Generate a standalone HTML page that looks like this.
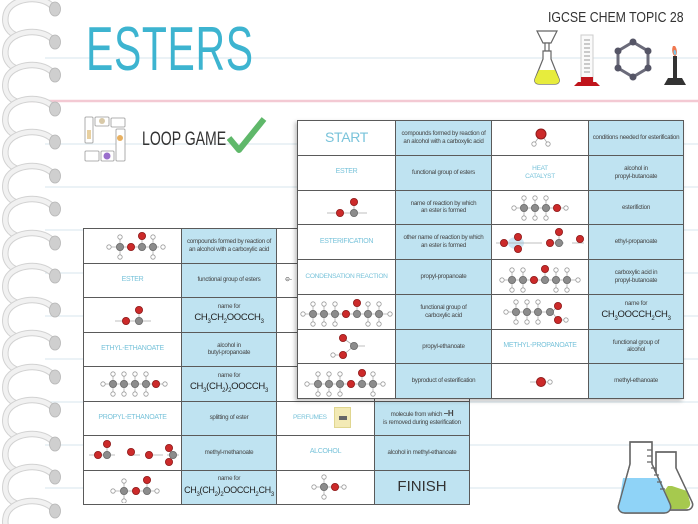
<!DOCTYPE html>
<html><head><meta charset="utf-8"><style>
*{margin:0;padding:0;box-sizing:border-box}
body{width:698px;height:524px;position:relative;overflow:hidden;background:#fff;font-family:"Liberation Sans",sans-serif}
.abs{position:absolute}
table{border-collapse:collapse;table-layout:fixed;position:absolute;background:#fff}
td{border:1.5px solid #5a5a5a;text-align:center;vertical-align:middle;font-size:6.2px;color:#444;line-height:1.25;overflow:hidden;padding:0;letter-spacing:-.25px}
td.b{background:#bfe3f1}
td.t{color:#79c3da;font-size:7px;letter-spacing:-.3px}
.f{font-size:9.5px;color:#222;letter-spacing:-.3px;display:block;margin-top:2px}
.f sub{font-size:6px}
td svg{display:block;margin:auto}
</style></head><body>
<svg width="0" height="0" style="position:absolute"><defs>
<circle id="C" r="3.6" fill="#8c8c8c" stroke="#6a6a6a" stroke-width=".8"/>
<circle id="O" r="3.6" fill="#cc2a2a" stroke="#8e1b1b" stroke-width=".8"/>
<circle id="H" r="2.2" fill="#fff" stroke="#9a9a9a" stroke-width=".8"/>
<g id="CH"><path d="M0 -10V10" stroke="#aaa" stroke-width=".8"/><use href="#C"/><use href="#H" y="-10"/><use href="#H" y="10"/></g>
<g id="CO"><path d="M0 -11V0" stroke="#aaa" stroke-width=".8"/><use href="#C"/><use href="#O" y="-11"/></g>
</defs></svg>

<svg class="abs" style="left:0;top:0" width="698" height="524">
<g stroke="#dfeaf0" stroke-width="1.2">
<line x1="45" y1="58" x2="698" y2="58"/><line x1="45" y1="144" x2="698" y2="144"/><line x1="45" y1="187" x2="698" y2="187"/><line x1="45" y1="230" x2="698" y2="230"/><line x1="45" y1="273" x2="698" y2="273"/><line x1="45" y1="316" x2="698" y2="316"/><line x1="45" y1="359" x2="698" y2="359"/><line x1="45" y1="402" x2="698" y2="402"/><line x1="45" y1="445" x2="698" y2="445"/><line x1="45" y1="488" x2="698" y2="488"/>
</g>
<line x1="20" y1="101" x2="698" y2="101" stroke="#f3c9d3" stroke-width="2.5"/>
<g id="ring">
<path d="M52 6 C40 -6 10 -2 6 14 C3 26 10 34 18 36" fill="none" stroke="#d2d2d2" stroke-width="6.5"/>
<path d="M52 6 C40 -6 10 -2 6 14 C3 26 10 34 18 36" fill="none" stroke="#f1f1f1" stroke-width="4.5"/>
<ellipse cx="55" cy="9" rx="5.5" ry="7" fill="#cfcfcf" stroke="#b5b5b5" stroke-width=".8"/>
</g>
<use href="#ring" y="33"/><use href="#ring" y="66"/><use href="#ring" y="100"/><use href="#ring" y="133"/><use href="#ring" y="167"/><use href="#ring" y="200"/><use href="#ring" y="234"/><use href="#ring" y="267"/><use href="#ring" y="301"/><use href="#ring" y="334"/><use href="#ring" y="368"/><use href="#ring" y="401"/><use href="#ring" y="435"/><use href="#ring" y="468"/><use href="#ring" y="502"/>
</svg>

<div class="abs" style="left:86px;top:14px;font-size:62px;color:#3db4d0;transform:scaleX(.66);transform-origin:left top;letter-spacing:1px">ESTERS</div>
<div class="abs" style="left:548px;top:9px;font-size:15px;color:#333;transform:scaleX(.82);transform-origin:left top;white-space:nowrap">IGCSE CHEM TOPIC 28</div>

<svg class="abs" style="left:530px;top:28px" width="168" height="60">
<g stroke="#666" stroke-width="1.2" fill="#fff">
<path d="M7 3h20l-6 12h-8z"/><rect x="15" y="15" width="4" height="8"/><path d="M13 23h8v8l8 20c1 3-1 5-4 5h-16c-3 0-5-2-4-5l8-20z"/>
</g>
<path d="M9 42h16l4 9c1 3-1 5-4 5h-16c-3 0-5-2-4-5z" fill="#e7ec3d"/>
<rect x="51" y="7" width="12" height="48" fill="#fafafa" stroke="#ccc"/>
<g stroke="#999" stroke-width="1"><path d="M54 12h6M54 16h6M54 20h6M54 24h6M54 28h6M54 32h6M54 36h6M54 40h6M54 44h6"/></g>
<path d="M44 58h26l-4-4h-18z" fill="#c0141b"/><rect x="51" y="49" width="12" height="6" fill="#c0141b"/>
<g fill="none" stroke="#6b6b7a" stroke-width="3"><path d="M103 14l15 9v17l-15 9l-15-9v-17z"/></g>
<g fill="#555566"><circle cx="103" cy="14" r="3.5"/><circle cx="118" cy="23" r="3.5"/><circle cx="118" cy="40" r="3.5"/><circle cx="103" cy="49" r="3.5"/><circle cx="88" cy="40" r="3.5"/><circle cx="88" cy="23" r="3.5"/></g>
<path d="M143 18c-2 4 0 10 2 10s3-6 0-10z" fill="#f07850"/><path d="M144 22c-1 2 0 5 1 5s2-3 0-5z" fill="#7bc6e6"/>
<rect x="143" y="28" width="4" height="22" fill="#333"/><path d="M134 57h22l-4-7h-14z" fill="#333"/>
</svg>

<svg class="abs" style="left:84px;top:116px" width="44" height="48">
<g fill="#fff" stroke="#999" stroke-width=".8"><rect x="1" y="1" width="8" height="26" rx="1"/><rect x="11" y="1" width="14" height="9" rx="1"/><rect x="27" y="2" width="14" height="9" rx="1"/><rect x="32" y="13" width="9" height="32" rx="1"/><rect x="1" y="35" width="14" height="10" rx="1"/><rect x="17" y="35" width="13" height="10" rx="1"/></g>
<circle cx="18" cy="5" r="3" fill="#d8c9a8"/><circle cx="36" cy="22" r="3" fill="#e8b060"/><circle cx="23" cy="40" r="3.5" fill="#9a6fcc"/><rect x="3" y="14" width="4" height="9" fill="#e8d0a0"/>
</svg>
<div class="abs" style="left:142px;top:129px;font-size:19px;color:#333;transform:scaleX(.74);transform-origin:left top;white-space:nowrap">LOOP GAME</div>
<svg class="abs" style="left:227px;top:116px" width="40" height="38"><path d="M2 22l10 12l25-31" fill="none" stroke="#5fb86a" stroke-width="6" stroke-linejoin="round"/></svg>

<table style="left:83px;top:228px;width:386px">
<colgroup><col style="width:98px"><col style="width:95px"><col style="width:98px"><col style="width:95px"></colgroup>
<tr style="height:34.5px"><td><svg width="96" height="32"><path d="M24 17H74" stroke="#aaa" stroke-width=".8"/><use href="#H" x="24" y="17"/><use href="#CH" x="35" y="17"/><use href="#O" x="46" y="17"/><use href="#CO" x="57" y="17"/><use href="#CH" x="68" y="17"/><use href="#H" x="78" y="17"/></svg></td><td class="b">compounds formed by reaction of<br>an alcohol with a carboxylic acid</td><td></td><td></td></tr>
<tr style="height:34.5px"><td class="t">ESTER</td><td class="b">functional group of esters</td><td style="text-align:left;padding-left:8px">⊖-</td><td></td></tr>
<tr style="height:34.5px"><td><svg width="96" height="32"><path d="M30 22H66M54 22V11" stroke="#aaa" stroke-width=".8"/><use href="#O" x="41" y="22"/><use href="#C" x="54" y="22"/><use href="#O" x="54" y="11"/></svg></td><td class="b">name for<span class="f">CH<sub>3</sub>CH<sub>2</sub>OOCCH<sub>3</sub></span></td><td></td><td></td></tr>
<tr style="height:34.5px"><td class="t">ETHYL-ETHANOATE</td><td class="b">alcohol in<br>butyl-propanoate</td><td></td><td></td></tr>
<tr style="height:34.5px"><td><svg width="96" height="32"><path d="M18 16H80" stroke="#aaa" stroke-width=".8"/><use href="#H" x="18" y="16"/><use href="#CH" x="28" y="16"/><use href="#CH" x="39" y="16"/><use href="#CH" x="50" y="16"/><use href="#CH" x="61" y="16"/><use href="#O" x="71" y="16"/><use href="#H" x="80" y="16"/></svg></td><td class="b">name for<span class="f">CH<sub>3</sub>(CH<sub>2</sub>)<sub>2</sub>OOCCH<sub>3</sub></span></td><td></td><td></td></tr>
<tr style="height:34.5px"><td class="t">PROPYL-ETHANOATE</td><td class="b">splitting of ester</td><td class="t" style="text-align:left;padding-left:16px;position:relative;font-size:6.5px">PERFUMES<span style="position:absolute;left:57px;top:5px;width:17px;height:21px;background:#f3eab5;border:1px solid #e0d690"><span style="position:absolute;left:4px;top:8px;width:8px;height:4px;background:#666"></span></span></td><td class="b">molecule from which <b style="font-size:8px">–H</b><br>is removed during esterification</td></tr>
<tr style="height:34.5px"><td><svg width="96" height="32"><path d="M4 18H30M44 18H55M64 18H78M82 18H94" stroke="#aaa" stroke-width=".8"/><use href="#O" x="13" y="18"/><use href="#CO" x="22" y="18"/><use href="#O" x="46" y="15"/><use href="#O" x="64" y="18"/><use href="#O" x="84" y="11"/><use href="#C" x="88" y="18"/><use href="#O" x="84" y="25"/></svg></td><td class="b">methyl-methanoate</td><td class="t">ALCOHOL</td><td class="b">alcohol in methyl-ethanoate</td></tr>
<tr style="height:34.5px"><td><svg width="96" height="32"><path d="M28 20H72" stroke="#aaa" stroke-width=".8"/><use href="#H" x="28" y="20"/><use href="#CH" x="39" y="20"/><use href="#O" x="51" y="20"/><use href="#CO" x="62" y="20"/><use href="#H" x="72" y="20"/></svg></td><td class="b">name for<span class="f" style="font-size:9px">CH<sub>3</sub>(CH<sub>2</sub>)<sub>2</sub>OOCCH<sub>2</sub>CH<sub>3</sub></span></td><td><svg width="96" height="32"><path d="M36 16H66" stroke="#aaa" stroke-width=".8"/><use href="#H" x="36" y="16"/><use href="#CH" x="46" y="16"/><use href="#O" x="57" y="16"/><use href="#H" x="66" y="16"/></svg></td><td class="b" style="font-size:15px;color:#333;letter-spacing:0">FINISH</td></tr>
</table>

<table style="left:297px;top:120px;width:386px;box-shadow:-2px 2px 4px rgba(0,0,0,.25)">
<colgroup><col style="width:98px"><col style="width:96px"><col style="width:97px"><col style="width:95px"></colgroup>
<tr style="height:34.75px"><td class="t" style="font-size:14px">START</td><td class="b">compounds formed by reaction of<br>an alcohol with a carboxylic acid</td><td><svg width="96" height="32"><path d="M42 22L49 12L56 22" stroke="#aaa" stroke-width=".8" fill="none"/><circle cx="49" cy="12" r="5" fill="#cc2a2a" stroke="#8e1b1b"/><use href="#H" x="42" y="22"/><use href="#H" x="56" y="22"/></svg></td><td class="b">conditions needed for esterification</td></tr>
<tr style="height:34.75px"><td class="t">ESTER</td><td class="b">functional group of esters</td><td class="t" style="font-size:6.5px">HEAT<br>CATALYST</td><td class="b">alcohol in<br>propyl-butanoate</td></tr>
<tr style="height:34.75px"><td><svg width="96" height="32"><path d="M28 22H68M55 22V11" stroke="#aaa" stroke-width=".8"/><use href="#O" x="41" y="22"/><use href="#C" x="55" y="22"/><use href="#O" x="55" y="11"/></svg></td><td class="b">name of reaction by which<br>an ester is formed</td><td><svg width="96" height="32"><path d="M22 17H74" stroke="#aaa" stroke-width=".8"/><use href="#H" x="22" y="17"/><use href="#CH" x="32" y="17"/><use href="#CH" x="43" y="17"/><use href="#CH" x="54" y="17"/><use href="#O" x="65" y="17"/><use href="#H" x="74" y="17"/></svg></td><td class="b">esterifiction</td></tr>
<tr style="height:34.75px"><td class="t">ESTERIFICATION</td><td class="b">other name of reaction by which<br>an ester is formed</td><td><svg width="96" height="32"><ellipse cx="24" cy="17" rx="8" ry="6" fill="#cfe6f4"/><path d="M4 17H50M56 17H72M80 17H92" stroke="#aaa" stroke-width=".8"/><use href="#O" x="12" y="17"/><use href="#O" x="26" y="11"/><use href="#O" x="26" y="23"/><use href="#O" x="58" y="17"/><use href="#CO" x="67" y="17"/><use href="#O" x="88" y="13"/></svg></td><td class="b">ethyl-propanoate</td></tr>
<tr style="height:34.75px"><td class="t" style="font-size:6.6px">CONDENSATION REACTION</td><td class="b">propyl-propanoate</td><td><svg width="96" height="32"><path d="M10 19H86" stroke="#aaa" stroke-width=".8"/><use href="#H" x="10" y="19"/><use href="#CH" x="20" y="19"/><use href="#CH" x="31" y="19"/><use href="#O" x="42" y="19"/><use href="#CO" x="53" y="19"/><use href="#CH" x="64" y="19"/><use href="#CH" x="75" y="19"/><use href="#H" x="86" y="19"/></svg></td><td class="b">carboxylic acid in<br>propyl-butanoate</td></tr>
<tr style="height:34.75px"><td><svg width="96" height="32"><path d="M4 18H92" stroke="#aaa" stroke-width=".8"/><use href="#H" x="4" y="18"/><use href="#CH" x="14" y="18"/><use href="#CH" x="25" y="18"/><use href="#CH" x="36" y="18"/><use href="#O" x="47" y="18"/><use href="#CO" x="58" y="18"/><use href="#CH" x="69" y="18"/><use href="#CH" x="80" y="18"/><use href="#H" x="91" y="18"/></svg></td><td class="b">functional group of<br>carboxylic acid</td><td><svg width="96" height="32"><path d="M14 16H60L66 10M60 16L66 24H74" stroke="#aaa" stroke-width=".8" fill="none"/><use href="#H" x="14" y="16"/><use href="#CH" x="24" y="16"/><use href="#CH" x="35" y="16"/><use href="#CH" x="46" y="16"/><use href="#C" x="58" y="16"/><use href="#O" x="66" y="10"/><use href="#O" x="66" y="24"/><use href="#H" x="74" y="24"/></svg></td><td class="b">name for<span class="f">CH<sub>3</sub>OOCCH<sub>2</sub>CH<sub>3</sub></span></td></tr>
<tr style="height:34.75px"><td><svg width="96" height="32"><path d="M44 8L55 16H66M55 16L44 25H34" stroke="#aaa" stroke-width=".8" fill="none"/><use href="#O" x="44" y="8"/><use href="#C" x="55" y="16"/><use href="#O" x="44" y="25"/><use href="#H" x="34" y="25"/></svg></td><td class="b">propyl-ethanoate</td><td class="t">METHYL-PROPANOATE</td><td class="b">functional group of<br>alcohol</td></tr>
<tr style="height:34.75px"><td><svg width="96" height="32"><path d="M8 19H82" stroke="#aaa" stroke-width=".8"/><use href="#H" x="8" y="19"/><use href="#CH" x="19" y="19"/><use href="#CH" x="30" y="19"/><use href="#CH" x="41" y="19"/><use href="#O" x="52" y="19"/><use href="#CO" x="63" y="19"/><use href="#CH" x="74" y="19"/><use href="#H" x="84" y="19"/></svg></td><td class="b">byproduct of esterification</td><td><svg width="96" height="32"><path d="M38 17H58" stroke="#aaa" stroke-width=".8"/><circle cx="49" cy="17" r="4.5" fill="#cc2a2a" stroke="#8e1b1b"/><use href="#H" x="58" y="17"/></svg></td><td class="b">methyl-ethanoate</td></tr>
</table>

<svg class="abs" style="left:615px;top:440px" width="83" height="80">
<path d="M41 12h20v16l16 34c2 4-1 8-5 8h-30c-4 0-7-4-5-8l4-8z" fill="#fff" stroke="#666" stroke-width="1.4"/>
<path d="M53 46l4 0l15 5l3 11c1 3-1 7-5 7h-26c-3 0-5-3-4-6z" fill="#a6c94e"/>
<path d="M41 12h20v16l16 34c2 4-1 8-5 8h-30c-4 0-7-4-5-8l4-8z" fill="none" stroke="#666" stroke-width="1.4"/>
<path d="M15 2h22v22l18 40c2 5-1 9-6 9h-39c-5 0-8-4-6-9l11-40z" fill="#fff" stroke="#666" stroke-width="1.4"/>
<path d="M8 38h37l10 26c2 5-1 9-6 9h-39c-5 0-8-4-6-9z" fill="#8fd3f7"/>
<path d="M15 2h22v22l18 40c2 5-1 9-6 9h-39c-5 0-8-4-6-9l11-40z" fill="none" stroke="#666" stroke-width="1.4"/>
<g stroke="#666" stroke-width="1.2"><path d="M32 10h5M32 16h5M32 22h5M36 28h5M39 35h5M42 42h5M45 49h5"/></g>
</svg>
</body></html>
